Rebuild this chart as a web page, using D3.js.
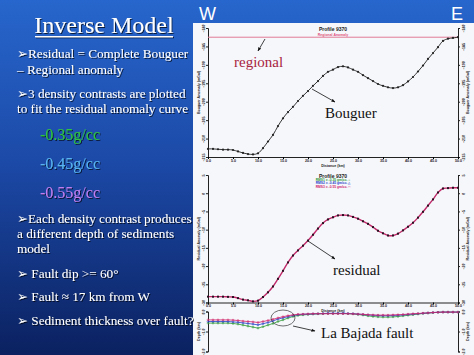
<!DOCTYPE html>
<html>
<head>
<meta charset="utf-8">
<script src="https://cdn.jsdelivr.net/npm/d3@7"></script>
<style>
body{margin:0;overflow:hidden;background:#153f98}
svg{display:block}
</style>
</head>
<body>
<div id="slide"></div>
<script>
// profile 9370, distance along the line (km)
const distance_km = [0,1,2,3,4,5,6,7,8,9,10,11,12,13,14,15,16,17,18,19,20,21,22,23,24,25,
    26,27,28,29,30,31,32,33,34,35,36,37,38,39,40,41,42,43,44,45,46,47,48,49,50];
const bouguer_mgal = [-212.8,-212.8,-212.9,-213.0,-213.0,-213.1,-213.5,-213.9,-214.2,-214.3,-214.0,
    -212.6,-210.8,-209.0,-206.6,-204.5,-202.8,-201.4,-199.8,-198.4,-197.1,-195.7,-194.4,-193.0,
    -191.9,-191.3,-190.6,-190.4,-190.7,-191.3,-191.9,-192.8,-193.6,-194.4,-195.2,-195.7,-196.1,
    -196.3,-196.1,-195.5,-194.5,-193.3,-191.8,-190.2,-188.4,-186.8,-185.2,-183.5,-182.9,-182.7,-182.5];
const regional_km = [0, 50];
const regional_mgal = [-182.5, -182.5];
const residual_mgal = [-28.4,-28.4,-28.4,-28.4,-28.45,-28.5,-28.8,-29.2,-29.4,-29.7,-29.5,
    -28.5,-27.2,-25.6,-23.5,-21.3,-19.0,-17.1,-15.7,-14.4,-13.0,-11.4,-9.7,-8.2,-7.2,-6.6,
    -6.1,-6.0,-6.1,-6.5,-7.0,-7.7,-8.4,-9.3,-10.3,-11.0,-11.6,-11.6,-11.1,-10.2,-9.2,-8.1,
    -6.7,-5.1,-3.4,-1.7,0.2,1.3,1.4,1.5,1.5];
// depth of sediments for each density contrast (km)
const depth_035 = [-0.58,-0.58,-0.58,-0.58,-0.58,-0.6,-0.63,-0.68,-0.73,-0.78,-0.83,-0.76,-0.68,
    -0.6,-0.5,-0.42,-0.33,-0.25,-0.2,-0.17,-0.15,-0.13,-0.12,-0.11,-0.1,-0.1,-0.1,-0.1,-0.11,
    -0.12,-0.15,-0.18,-0.22,-0.25,-0.27,-0.28,-0.28,-0.27,-0.25,-0.22,-0.19,-0.16,-0.13,-0.1,
    -0.08,-0.06,-0.04,-0.03,-0.03,-0.03,-0.03];
const depth_045 = [-0.5,-0.5,-0.5,-0.5,-0.5,-0.52,-0.54,-0.57,-0.6,-0.63,-0.67,-0.61,-0.55,-0.47,
    -0.38,-0.32,-0.26,-0.2,-0.16,-0.14,-0.13,-0.12,-0.11,-0.1,-0.09,-0.09,-0.09,-0.09,-0.1,-0.11,
    -0.13,-0.15,-0.17,-0.19,-0.2,-0.21,-0.21,-0.2,-0.19,-0.17,-0.15,-0.13,-0.11,-0.09,-0.07,
    -0.05,-0.04,-0.03,-0.03,-0.03,-0.03];
const depth_055 = [-0.42,-0.42,-0.42,-0.42,-0.42,-0.43,-0.45,-0.48,-0.5,-0.52,-0.55,-0.5,-0.45,
    -0.39,-0.32,-0.26,-0.21,-0.17,-0.14,-0.13,-0.12,-0.11,-0.11,-0.11,-0.11,-0.11,-0.11,-0.11,
    -0.11,-0.12,-0.13,-0.14,-0.16,-0.17,-0.18,-0.18,-0.18,-0.17,-0.16,-0.15,-0.13,-0.11,-0.1,
    -0.08,-0.07,-0.05,-0.04,-0.03,-0.03,-0.03,-0.03];
const x_ticks = [0,5,10,15,20,25,30,35,40,45,50];
const bouguer_ticks = [-215,-210,-205,-200,-195,-190,-185,-180];
const residual_ticks = [-30,-25,-20,-15,-10,-5,0,5];
const depth_ticks = [-2,-1,0];
const legend_labels = ["RMS1 = -0.35 gm/cc. \u25cb", "RMS2 = -0.45 gm/cc. \u25b3", "RMS3 = -0.55 gm/cc. \u25a1"];
const legend_colors = ["#2f9a35", "#2845c8", "#d0266a"];

class Slide {
    constructor(container_id) {
        this.width = 474;
        this.height = 355;
        this.svg = d3.select("#" + container_id)
            .append("svg")
            .attr("width", this.width)
            .attr("height", this.height);
        this.defs = this.svg.append("defs");
        this.x = d3.scaleLinear().domain([0, 50]).range([208, 458]);
        this.drawBackground();
        this.drawText();
        this.drawTop();
        this.drawResidual();
        this.drawDepth();
        this.drawNotes();
    }
    drawBackground() {
        let g = this.defs.append("linearGradient").attr("id", "bg")
            .attr("x1", 0).attr("y1", 0).attr("x2", 0).attr("y2", 1);
        g.append("stop").attr("offset", "0%").attr("stop-color", "#2766cc");
        g.append("stop").attr("offset", "45%").attr("stop-color", "#1c4aa8");
        g.append("stop").attr("offset", "100%").attr("stop-color", "#0b2160");
        let f = this.defs.append("filter").attr("id", "shadow");
        f.append("feDropShadow").attr("dx", 1).attr("dy", 1).attr("stdDeviation", 0.4)
            .attr("flood-color", "#000").attr("flood-opacity", 0.7);
        let m = this.defs.append("marker").attr("id", "arrow")
            .attr("viewBox", "0 0 10 10").attr("refX", 9).attr("refY", 5)
            .attr("markerWidth", 5).attr("markerHeight", 5).attr("orient", "auto");
        m.append("path").attr("d", "M0,1L10,5L0,9z").attr("fill", "#111");

        this.svg.append("rect").attr("width", this.width).attr("height", this.height).attr("fill", "url(#bg)");
        this.svg.append("rect").attr("x", 193).attr("y", 23).attr("width", 281).attr("height", 332)
            .attr("fill", "#f6f7fb");
        this.svg.append("text").attr("x", 199).attr("y", 20).text("W")
            .attr("fill", "#fff").style("font", "18px 'Liberation Sans', Arial");
        this.svg.append("text").attr("x", 451).attr("y", 20).text("E")
            .attr("fill", "#fff").style("font", "18px 'Liberation Sans', Arial");
    }
    drawText() {
        let g = this.svg.append("g").attr("filter", "url(#shadow)")
            .style("font-family", "'Liberation Serif', 'Times New Roman', serif").attr("fill", "#fff");
        g.append("text").attr("x", 104).attr("y", 33).attr("text-anchor", "middle")
            .style("font-size", "24px").text("Inverse Model");
        g.append("rect").attr("x", 35).attr("y", 36).attr("width", 138).attr("height", 1.3);
        let fs = 13.2;
        let lines = [
            ["\u27a2Residual = Complete Bouguer", 17, 58, "#fff", fs],
            ["\u2013 Regional anomaly", 17, 74, "#fff", fs],
            ["\u27a23 density contrasts are plotted", 17, 98, "#fff", fs],
            ["to fit the residual anomaly curve", 17, 113, "#fff", fs],
            ["-0.35g/cc", 40, 140, "#2fc43f", 16],
            ["-0.45g/cc", 40, 169, "#58b4f0", 16],
            ["-0.55g/cc", 40, 198, "#c07ef0", 16],
            ["\u27a2Each density contrast produces", 17, 223, "#fff", fs],
            ["a different depth of sediments", 17, 238, "#fff", fs],
            ["model", 17, 253, "#fff", fs],
            ["\u27a2 Fault dip >= 60\u00b0", 17, 278, "#fff", fs],
            ["\u27a2 Fault \u2248 17 km from W", 17, 301, "#fff", fs],
            ["\u27a2 Sediment thickness over fault?", 17, 325, "#fff", fs]
        ];
        g.selectAll("text.line").data(lines).join("text")
            .attr("class", "line")
            .attr("x", d => d[1]).attr("y", d => d[2])
            .attr("fill", d => d[3]).style("font-size", d => d[4] + "px")
            .text(d => d[0]);
    }
    // left + right axes with rotated labels, and bottom axis
    axes(y, ticks, title, bottom, fmt) {
        let svg = this.svg, x = this.x;
        let font = "bold 3.6px 'Liberation Sans', Arial";
        let left = svg.append("g").attr("transform", `translate(${x.range()[0]},0)`)
            .call(d3.axisLeft(y).tickValues(ticks).tickSize(2).tickFormat(fmt));
        left.selectAll("text").attr("transform", "rotate(-90)").attr("x", 0).attr("y", -3.2)
            .attr("dy", 0).style("text-anchor", "middle");
        let right = svg.append("g").attr("transform", `translate(${x.range()[1]},0)`)
            .call(d3.axisRight(y).tickValues(ticks).tickSize(2).tickFormat(fmt));
        right.selectAll("text").attr("transform", "rotate(-90)").attr("x", 0).attr("y", 6.5)
            .attr("dy", 0).style("text-anchor", "middle");
        [left, right].forEach(a => {
            a.selectAll("text").style("font", font).attr("fill", "#222");
            a.select(".domain").attr("stroke", "#222");
            a.selectAll(".tick line").attr("stroke", "#222");
        });
        let cy = (y.range()[0] + y.range()[1]) / 2;
        svg.append("text").attr("transform", `translate(200,${cy})rotate(-90)`)
            .attr("text-anchor", "middle").text(title)
            .style("font", font).attr("fill", "#222");
        svg.append("text").attr("transform", `translate(469,${cy})rotate(-90)`)
            .attr("text-anchor", "middle").text(title)
            .style("font", font).attr("fill", "#222");
        if (bottom) {
            let b = svg.append("g").attr("transform", `translate(0,${y.range()[0]})`)
                .call(d3.axisBottom(x).tickValues(x_ticks).tickSize(2).tickFormat(d3.format(".1f")));
            b.selectAll("text").attr("y", 2.4).style("font", font).attr("fill", "#222");
            b.select(".domain").attr("stroke", "#222");
            svg.append("text").attr("x", 333).attr("y", y.range()[0] + 9.5).attr("text-anchor", "middle")
                .text("Distance (km)").style("font", font).attr("fill", "#222");
        }
    }
    drawTop() {
        let svg = this.svg, x = this.x;
        let y = d3.scaleLinear().domain([-215, -180]).range([157, 28]);
        this.axes(y, bouguer_ticks, "Bouguer Anomaly (mGal)", true, d3.format("d"));
        let line = d3.line().x(d => x(d[0])).y(d => y(d[1]));
        svg.append("path").datum(d3.zip(regional_km, regional_mgal)).attr("d", line)
            .attr("fill", "none").attr("stroke", "#e07a95").attr("stroke-width", 1);
        let pts = d3.zip(distance_km, bouguer_mgal);
        svg.append("path").datum(pts).attr("d", line.curve(d3.curveCatmullRom))
            .attr("fill", "none").attr("stroke", "#222").attr("stroke-width", 0.9);
        svg.append("g").selectAll("circle").data(pts).join("circle")
            .attr("cx", d => x(d[0])).attr("cy", d => y(d[1])).attr("r", 1.1).attr("fill", "#222");
        svg.append("text").attr("x", 333).attr("y", 31).attr("text-anchor", "middle").text("Profile 9370")
            .style("font", "bold 5px 'Liberation Sans', Arial").attr("fill", "#222");
        svg.append("text").attr("x", 333).attr("y", 36).attr("text-anchor", "middle").text("Regional Anomaly")
            .style("font", "bold 3.5px 'Liberation Sans', Arial").attr("fill", "#e0507a");
    }
    drawResidual() {
        let svg = this.svg, x = this.x;
        let y = d3.scaleLinear().domain([-30, 5]).range([302.5, 175]);
        this.axes(y, residual_ticks, "Residual Anomaly (mGal)", true, d3.format("d"));
        let pts = d3.zip(distance_km, residual_mgal);
        let line = d3.line().x(d => x(d[0])).y(d => y(d[1])).curve(d3.curveCatmullRom);
        svg.append("path").datum(pts).attr("d", line)
            .attr("fill", "none").attr("stroke", "#c02a6a").attr("stroke-width", 1.4);
        svg.append("g").selectAll("rect").data(pts).join("rect")
            .attr("x", d => x(d[0]) - 1).attr("y", d => y(d[1]) - 1)
            .attr("width", 2).attr("height", 2).attr("fill", "#2a1020");
        svg.append("text").attr("x", 333).attr("y", 177.5).attr("text-anchor", "middle").text("Profile 9370")
            .style("font", "bold 5px 'Liberation Sans', Arial").attr("fill", "#222");
        svg.append("g").selectAll("text").data(legend_labels).join("text")
            .attr("x", 333).attr("y", (d, i) => 181 + i * 3.4).attr("text-anchor", "middle")
            .text(d => d).attr("fill", (d, i) => legend_colors[i])
            .style("font", "bold 3.3px 'Liberation Sans', Arial");
    }
    drawDepth() {
        let svg = this.svg, x = this.x;
        let y = d3.scaleLinear().domain([-2, 0]).range([351.5, 311.5]);
        this.axes(y, depth_ticks, "Depth (km)", false, d3.format(".1f"));
        let line = d3.line().x(d => x(d[0])).y(d => y(d[1]));
        [depth_035, depth_045, depth_055].forEach((s, i) => {
            let pts = d3.zip(distance_km, s);
            svg.append("path").datum(pts).attr("d", line)
                .attr("fill", "none").attr("stroke", legend_colors[i]).attr("stroke-width", 0.8);
            svg.append("g").selectAll("circle").data(pts).join("circle")
                .attr("cx", d => x(d[0])).attr("cy", d => y(d[1])).attr("r", 0.9)
                .attr("fill", "none").attr("stroke", legend_colors[i]).attr("stroke-width", 0.6);
        });
    }
    drawNotes() {
        let svg = this.svg;
        let serif = "'Liberation Serif', 'Times New Roman', serif";
        let notes = [
            ["regional", 234, 67, "#a8243f"],
            ["Bouguer", 325, 118, "#111"],
            ["residual", 333, 275, "#111"],
            ["La Bajada fault", 321, 338, "#111"]
        ];
        svg.append("g").selectAll("text").data(notes).join("text")
            .attr("x", d => d[1]).attr("y", d => d[2]).attr("fill", d => d[3])
            .style("font", `15px ${serif}`).text(d => d[0]);
        let arrows = [[265, 39, 258, 51], [312, 89, 335, 102], [308, 241, 335, 259], [293, 326, 315, 331]];
        svg.append("g").selectAll("line").data(arrows).join("line")
            .attr("x1", d => d[0]).attr("y1", d => d[1]).attr("x2", d => d[2]).attr("y2", d => d[3])
            .attr("stroke", "#111").attr("stroke-width", 0.8).attr("marker-end", "url(#arrow)");
        svg.append("ellipse").attr("cx", 283).attr("cy", 318).attr("rx", 12).attr("ry", 8)
            .attr("fill", "none").attr("stroke", "#333").attr("stroke-width", 0.7);
    }
}

new Slide("slide");
</script>
</body>
</html>
